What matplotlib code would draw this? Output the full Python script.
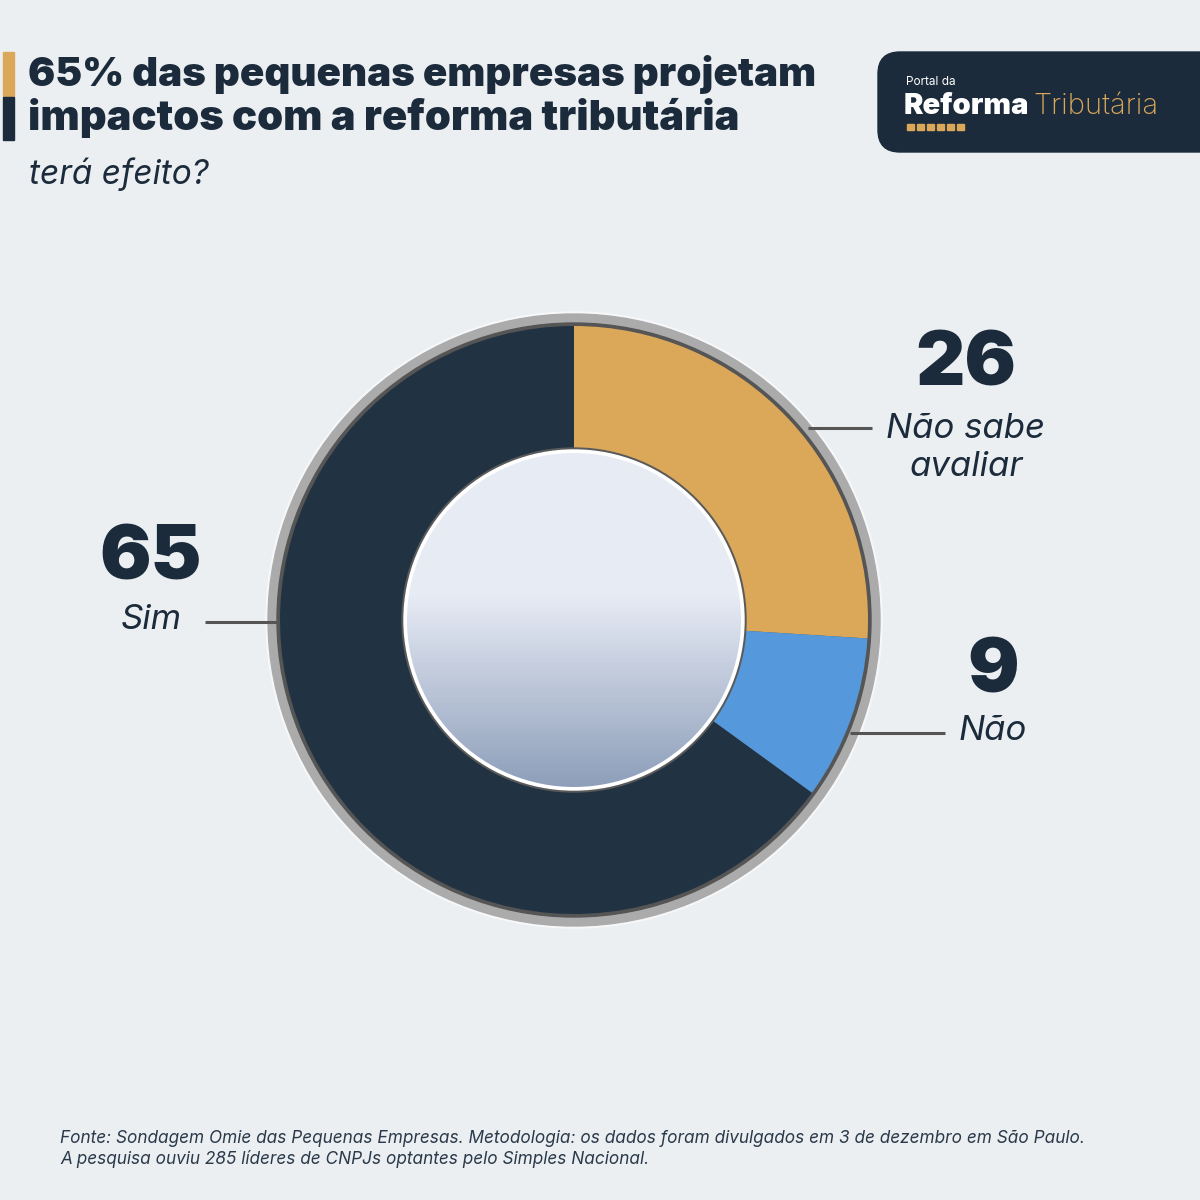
import numpy as np
import matplotlib
matplotlib.use("Agg")
from matplotlib import pyplot as plt
from matplotlib.patches import Circle, Rectangle, FancyBboxPatch
from matplotlib.colors import LinearSegmentedColormap

# Data
labels = ["Não sabe\navaliar", "Não", "Sim"]
values = [26, 9, 65]
colors = ["#DBA85A", "#5598DC", "#213343"]

BG = "#ECEFF2"
NAVY = "#1B2B3B"
plt.rcParams['font.family'] = ['Inter', 'DejaVu Sans']

fig = plt.figure(figsize=(12, 12), dpi=100, facecolor=BG)
ax = fig.add_axes([0, 0, 1, 1])

def Y(y):
    return 1200 - y

cx, cy = 574, Y(620)

# outer ring
ax.add_patch(Circle((cx, cy), 308, color="#F7F8FA", zorder=1))
ax.add_patch(Circle((cx, cy), 306, color="#ABABAB", zorder=1))
ax.add_patch(Circle((cx, cy), 297, color="#555555", zorder=1))

ax.pie(values, colors=colors, startangle=90, counterclock=False,
       center=(cx, cy), radius=294, frame=True,
       wedgeprops=dict(linewidth=0, zorder=2))
ax.set_xlim(0, 1200)
ax.set_ylim(0, 1200)
ax.set_aspect('equal')
ax.axis('off')

# inner hole with gradient
ax.add_patch(Circle((cx, cy), 172, color="#5A5A5A", zorder=3))
ax.add_patch(Circle((cx, cy), 170, color="#FFFFFF", zorder=3))
r_in = 167
grad = np.concatenate([np.zeros(42), np.linspace(0, 1, 58)])[:, None]
cmap = LinearSegmentedColormap.from_list("g", ["#E7EBF4", "#8E9FBB"])
im = ax.imshow(grad, cmap=cmap, extent=[cx - r_in, cx + r_in, cy - r_in, cy + r_in],
               origin='upper', aspect='auto', zorder=4)
clip = Circle((cx, cy), r_in, transform=ax.transData)
im.set_clip_path(clip)

# leader lines
line_kw = dict(color="#555555", lw=2.2, zorder=5, solid_capstyle='butt')
ax.plot([808, 872], [Y(428), Y(428)], **line_kw)
ax.plot([205, 278], [Y(622), Y(622)], **line_kw)
ax.plot([850, 945], [Y(733), Y(733)], **line_kw)

# value labels
num_kw = dict(color=NAVY, fontsize=55, fontweight='black', ha='center', va='center')
lab_kw = dict(color=NAVY, fontsize=25, fontstyle='italic', ha='center', va='center',
              linespacing=1.2)
ax.text(966, Y(366), str(values[0]), **num_kw)
ax.text(966, Y(448), labels[0], **lab_kw)
ax.text(993, Y(673), str(values[1]), **num_kw)
ax.text(993, Y(731), labels[1], **lab_kw)
ax.text(151, Y(560), str(values[2]), **num_kw)
ax.text(151, Y(620), labels[2], **lab_kw)

# title
ax.add_patch(Rectangle((3, Y(96)), 11, 44, color="#DBA85A", zorder=5))
ax.add_patch(Rectangle((3, Y(140)), 11, 43, color=NAVY, zorder=5))
ax.text(28, Y(74), "65% das pequenas empresas projetam", color=NAVY, fontsize=29,
        fontweight='black', va='center', ha='left')
ax.text(28, Y(118), "impactos com a reforma tributária", color=NAVY, fontsize=30,
        fontweight='black', va='center', ha='left')
ax.text(29, Y(174), "terá efeito?", color=NAVY, fontsize=24, fontstyle='italic',
        va='center', ha='left')

# logo
ax.add_patch(FancyBboxPatch((878, Y(152)), 360, 100,
                            boxstyle="round,pad=0,rounding_size=22",
                            color=NAVY, zorder=5))
ax.text(906, Y(82), "Portal da", color="white", fontsize=8.5, va='center', ha='left', zorder=6)
ax.text(904, Y(106), "Reforma", color="white", fontsize=21, fontweight='black',
        va='center', ha='left', zorder=6)
ax.text(1033, Y(106), "Tributária", color="#DBA85A", fontsize=21, fontweight='light',
        va='center', ha='left', zorder=6)
for i in range(6):
    ax.add_patch(Rectangle((907 + i * 10, Y(130)), 7, 6, color="#DBA85A", zorder=6))

# footer
foot = ("Fonte: Sondagem Omie das Pequenas Empresas. Metodologia: os dados foram divulgados em 3 de dezembro em São Paulo.\n"
        "A pesquisa ouviu 285 líderes de CNPJs optantes pelo Simples Nacional.")
ax.text(60, Y(1149), foot, color="#2A3A4A", fontsize=12.4, fontstyle='italic',
        va='center', ha='left', linespacing=1.2)

fig.savefig("out.png", dpi=100, facecolor=BG)
